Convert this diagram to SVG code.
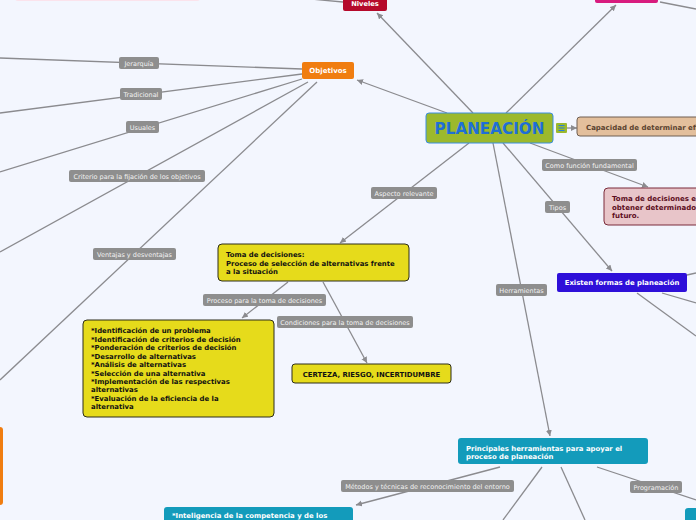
<svg xmlns="http://www.w3.org/2000/svg" width="696" height="520" viewBox="0 0 696 520">
<defs>
<marker id="ah" markerUnits="userSpaceOnUse" markerWidth="8" markerHeight="8" refX="6" refY="3" orient="auto"><path d="M0,0 L6,3 L0,6 z" fill="#8b8b8f"/></marker>
<style>
.ln{stroke:#8b8b8f;stroke-width:1.3;fill:none}
.ar{marker-end:url(#ah)}
.lb rect{fill:#8e8e8e}
.lb text{fill:#f2f2f2;font-family:"DejaVu Sans",Verdana,sans-serif;font-size:6.5px;text-anchor:middle}
.b{font-family:"DejaVu Sans",Verdana,sans-serif;font-weight:bold}
.w{fill:#ffffff}
.k{fill:#111111}
</style>
</defs>
<rect width="696" height="520" fill="#f3f6fe"/>
<g id="connectors">
<path class="ln ar" d="M473,113 L377,13"/>
<path class="ln ar" d="M506,113 L616,5"/>
<path class="ln ar" d="M447,113 L357,80"/>
<path class="ln ar" d="M567,128 L577,128"/>
<path class="ln ar" d="M530,143 L648,187"/>
<path class="ln ar" d="M503,143 L612,271"/>
<path class="ln ar" d="M493,143 L550,436"/>
<path class="ln ar" d="M469,143 L340,243"/>
<path class="ln ar" d="M288,282 L242,318"/>
<path class="ln ar" d="M323,282 L367,363"/>
<path class="ln" d="M302,69 L0,58"/>
<path class="ln" d="M302,74 L0,113"/>
<path class="ln" d="M302,79 L0,172"/>
<path class="ln" d="M308,82 L0,252"/>
<path class="ln" d="M317,82 L0,380"/>
<path class="ln" d="M343,2 L300,-2"/>
<path class="ln" d="M660,2 L696,9"/>
<path class="ln" d="M687,275 L696,273"/>
<path class="ln" d="M662,293 L696,303"/>
<path class="ln" d="M637,293 L696,336"/>
<path class="ln ar" d="M500,467 L356,505"/>
<path class="ln" d="M542,467 L503,520"/>
<path class="ln" d="M561,467 L585,520"/>
<path class="ln" d="M597,467 L696,500"/>
<g class="lb"><rect x="119" y="57" width="40" height="12" rx="2"/><text x="139" y="65.5">Jerarquía</text></g>
<g class="lb"><rect x="120" y="88" width="42" height="12" rx="2"/><text x="141" y="96.5">Tradicional</text></g>
<g class="lb"><rect x="126" y="121" width="33" height="12" rx="2"/><text x="142.5" y="129.5">Usuales</text></g>
<g class="lb"><rect x="69" y="170" width="136" height="12" rx="2"/><text x="137" y="178.5">Criterio para la fijación de los objetivos</text></g>
<g class="lb"><rect x="93" y="248" width="83" height="12" rx="2"/><text x="134.5" y="256.5">Ventajas y desventajas</text></g>
<g class="lb"><rect x="371" y="187" width="66" height="12" rx="2"/><text x="404" y="195.5">Aspecto relevante</text></g>
<g class="lb"><rect x="542" y="159" width="95" height="12" rx="2"/><text x="589.5" y="167.5">Como función fundamental</text></g>
<g class="lb"><rect x="545" y="201" width="25" height="12" rx="2"/><text x="557.5" y="209.5">Tipos</text></g>
<g class="lb"><rect x="496" y="284" width="51" height="12" rx="2"/><text x="521.5" y="292.5">Herramientas</text></g>
<g class="lb"><rect x="203" y="294" width="123" height="12" rx="2"/><text x="264.5" y="302.5">Proceso para la toma de decisiones</text></g>
<g class="lb"><rect x="277" y="316" width="136" height="12" rx="2"/><text x="345" y="324.5">Condiciones para la toma de decisiones</text></g>
<g class="lb"><rect x="341" y="480" width="173" height="12" rx="2"/><text x="427.5" y="488.5">Métodos y técnicas  de reconocimiento del entorno</text></g>
<g class="lb"><rect x="630" y="481" width="52" height="12" rx="2"/><text x="656" y="489.5">Programación</text></g>
</g>
<g id="n-top-pink"><rect x="15" y="-30" width="185" height="31" rx="3" fill="#fbe3ec"/></g>
<g id="n-niveles"><rect x="343" y="-10" width="44" height="21" rx="2" fill="#b5092b"/><text class="b w" x="365" y="6" font-size="6.7" text-anchor="middle">Niveles</text></g>
<g id="n-magenta"><rect x="595" y="-20" width="63" height="23" rx="2" fill="#d81b7e"/></g>
<g id="n-objetivos"><rect x="302" y="62" width="52" height="17" rx="2" fill="#f07d10"/><text class="b w" x="328" y="73" font-size="7" text-anchor="middle">Objetivos</text></g>
<g id="n-planeacion"><rect x="426" y="113" width="127" height="30" rx="3" fill="#9cb92c" stroke="#3a8ee0" stroke-width="1"/><text class="b" x="489.5" y="134" font-size="15.2" text-anchor="middle" fill="#1f6fd6">PLANEACIÓN</text>
<rect x="556" y="123" width="11" height="10" rx="1" fill="#9cb92c"/><path d="M558.5,125.5 h6 M558.5,128 h6 M558.5,130.5 h6" stroke="#2a7fd8" stroke-width="1"/></g>
<g id="n-capacidad"><rect x="577" y="117" width="130" height="19" rx="3" fill="#e3bf9c" stroke="#6f5f52" stroke-width="1"/><text class="b" x="586" y="129.5" font-size="7" fill="#5b4330">Capacidad de determinar efi</text></g>
<g id="n-toma-pink"><rect x="604" y="188" width="110" height="37" rx="4" fill="#e8c5c9" stroke="#7a2a3a" stroke-width="1"/><text class="b" font-size="7" fill="#5c0d22"><tspan x="612" y="201">Toma de decisiones e</tspan><tspan x="612" y="209.5">obtener determinados</tspan><tspan x="612" y="218">futuro.</tspan></text></g>
<g id="n-existen"><rect x="557" y="273" width="130" height="19" rx="2" fill="#2e0fd9"/><text class="b w" x="622" y="285" font-size="6.9" text-anchor="middle">Existen formas de planeación</text></g>
<g id="n-toma-yellow"><rect x="218" y="244" width="191" height="37" rx="4" fill="#e6db1b" stroke="#2d2d1a" stroke-width="1"/><text class="b k" font-size="6.9"><tspan x="226" y="257">Toma de decisiones:</tspan><tspan x="226" y="265.5">Proceso de selección de alternativas frente</tspan><tspan x="226" y="274">a la situación</tspan></text></g>
<g id="n-lista"><rect x="83" y="320" width="191" height="97" rx="4" fill="#e6db1b" stroke="#2d2d1a" stroke-width="1"/><text class="b k" font-size="6.9"><tspan x="91" y="333">*Identificación de un problema</tspan><tspan x="91" y="341.5">*Identificación de criterios de decisión</tspan><tspan x="91" y="350">*Ponderación de criterios de decisión</tspan><tspan x="91" y="358.5">*Desarrollo de alternativas</tspan><tspan x="91" y="367">*Análisis de alternativas</tspan><tspan x="91" y="375.5">*Selección de una alternativa</tspan><tspan x="91" y="384">*Implementación de las respectivas</tspan><tspan x="91" y="392">alternativas</tspan><tspan x="91" y="400.5">*Evaluación de la eficiencia de la</tspan><tspan x="91" y="409">alternativa</tspan></text></g>
<g id="n-certeza"><rect x="292" y="364" width="159" height="19" rx="3" fill="#e6db1b" stroke="#2d2d1a" stroke-width="1"/><text class="b k" x="371.5" y="376.5" font-size="6.9" text-anchor="middle">CERTEZA, RIESGO, INCERTIDUMBRE</text></g>
<g id="n-left-orange"><rect x="-10" y="427" width="13" height="78" rx="3" fill="#f07d10"/></g>
<g id="n-principales"><rect x="458" y="438" width="190" height="26" rx="3" fill="#139bbb"/><text class="b w" font-size="6.9"><tspan x="466" y="451">Principales herramientas para apoyar el</tspan><tspan x="466" y="459">proceso de planeación</tspan></text></g>
<g id="n-inteligencia"><rect x="164" y="507" width="189" height="30" rx="3" fill="#139bbb"/><text class="b w" x="172" y="518.3" font-size="6.9">*Inteligencia de la competencia y de los</text></g>
<g id="n-bottom-right"><rect x="685" y="508" width="30" height="30" rx="3" fill="#139bbb"/></g>
</svg>
